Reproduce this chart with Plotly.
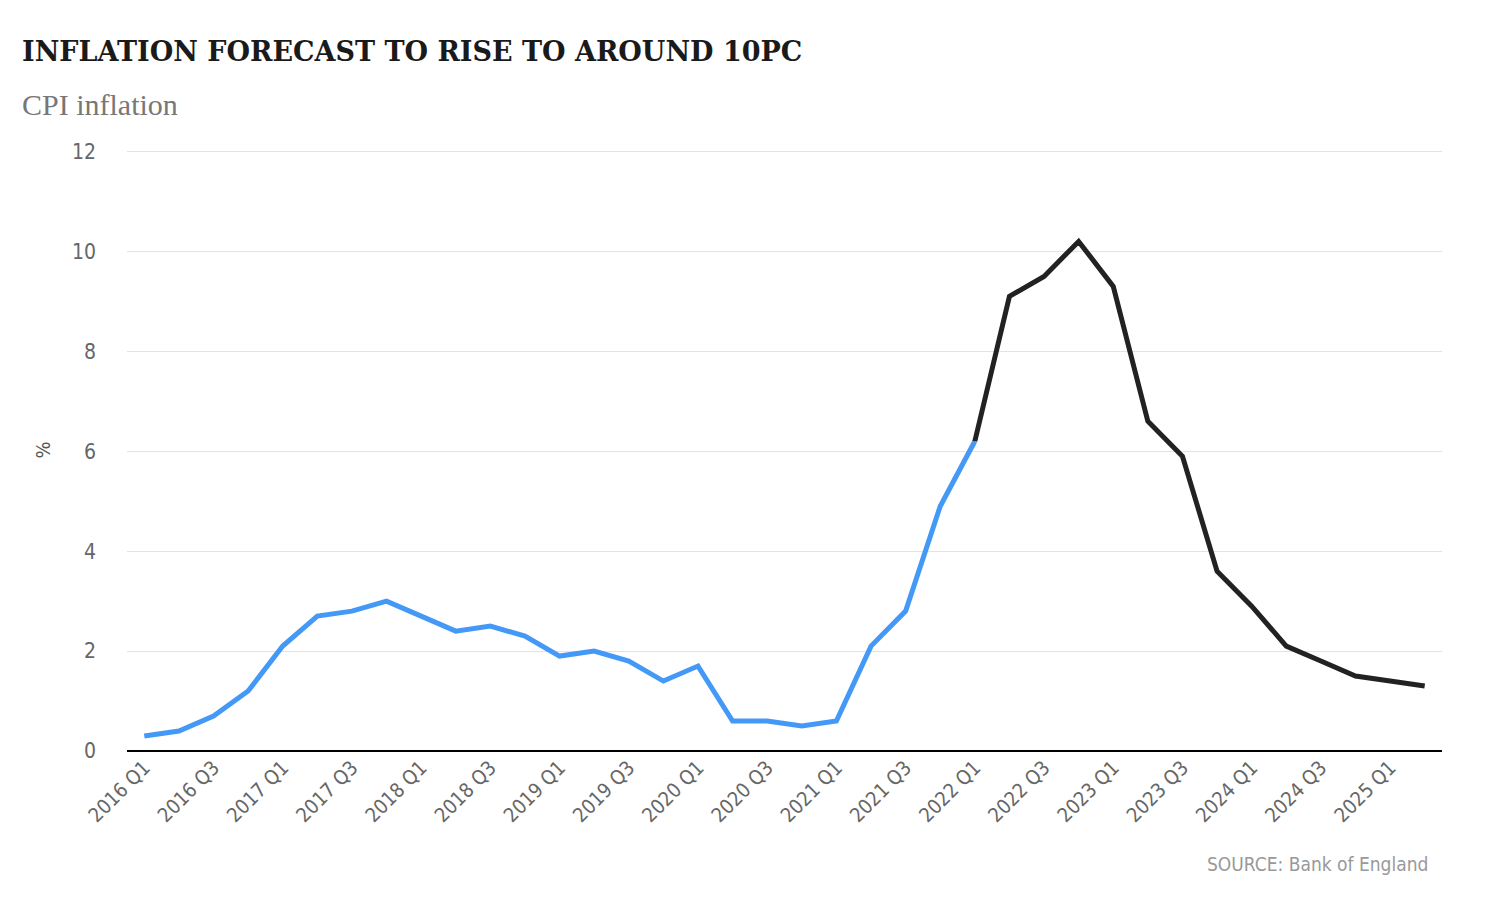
"""
CPI inflation: outturn and Bank of England forecast, quarterly.
"""

import plotly.graph_objects as go

# ── Data ───────────────────────────────────────────────────────────────────────
years = list(range(2016, 2026))
quarters = [f"{y} Q{q}" for y in years for q in range(1, 5)][:38]   # 2016 Q1 .. 2025 Q2

outturn = [0.3, 0.4, 0.7, 1.2, 2.1, 2.7, 2.8, 3.0, 2.7, 2.4, 2.5, 2.3,
           1.9, 2.0, 1.8, 1.4, 1.7, 0.6, 0.6, 0.5, 0.6, 2.1, 2.8, 4.9, 6.2]
forecast = [6.2, 9.1, 9.5, 10.2, 9.3, 6.6, 5.9, 3.6, 2.9, 2.1, 1.8, 1.5, 1.4, 1.3]

tick_labels = quarters[::2]

BLUE = "#4499f7"
BLACK = "#222222"
AXIS_FONT = "Liberation Sans Narrow, DejaVu Sans Condensed, Roboto, sans-serif"
SERIF = "Liberation Serif, DejaVu Serif, serif"

# plot area in px (page body adds an 8px offset)
PW, PH = 1315, 601

# ── Figure ─────────────────────────────────────────────────────────────────────
fig = go.Figure()
fig.add_trace(go.Scatter(x=quarters[:len(outturn)], y=outturn, mode="lines",
                         line=dict(color=BLUE, width=5), name="Outturn"))
fig.add_trace(go.Scatter(x=quarters[len(outturn) - 1:], y=forecast, mode="lines",
                         line=dict(color=BLACK, width=5), name="Forecast"))

fig.update_layout(
    width=1486, height=908,
    margin=dict(l=119, r=52, t=142, b=165),
    plot_bgcolor="white", paper_bgcolor="white",
    showlegend=False,
    font=dict(family=AXIS_FONT, color="#666666", size=20),
)
fig.update_xaxes(
    type="category", categoryorder="array", categoryarray=quarters,
    range=[-0.5, 37.5],
    tickvals=tick_labels, ticktext=tick_labels, tickangle=-45,
    showgrid=False, showline=False, ticks="",
    tickfont=dict(family=AXIS_FONT, size=20, color="#666666"),
)
fig.update_yaxes(
    range=[0, 12.03], tickvals=[0, 2, 4, 6, 8, 10, 12],
    showgrid=True, gridcolor="#e3e3e3", gridwidth=1.3,
    zeroline=True, zerolinecolor="#000000", zerolinewidth=2,
    showline=False, ticks="", ticklabelstandoff=30,
    tickfont=dict(family=AXIS_FONT, size=21, color="#666666"),
)

# titles, axis label and source
fig.add_annotation(text="<b>INFLATION FORECAST TO RISE TO AROUND 10PC</b>",
                   xref="paper", yref="paper", x=-107 / PW, y=1 + 98 / PH,
                   xanchor="left", yanchor="middle", showarrow=False,
                   font=dict(family="DejaVu Serif, serif", size=27, color="#1a1a1a"))
fig.add_annotation(text="CPI inflation",
                   xref="paper", yref="paper", x=-107 / PW, y=1 + 46 / PH,
                   xanchor="left", yanchor="middle", showarrow=False,
                   font=dict(family=SERIF, size=30, color="#777777"))
fig.add_annotation(text="%", textangle=-90,
                   xref="paper", yref="paper", x=-85 / PW, y=0.5,
                   xanchor="center", yanchor="middle", showarrow=False,
                   font=dict(family=AXIS_FONT, size=20, color="#555555"))
fig.add_annotation(text="SOURCE: Bank of England",
                   xref="paper", yref="paper", x=1 - 12 / PW, y=-113 / PH,
                   xanchor="right", yanchor="middle", showarrow=False,
                   font=dict(family=AXIS_FONT, size=19, color="#999999"))

fig.write_html("out.html")
